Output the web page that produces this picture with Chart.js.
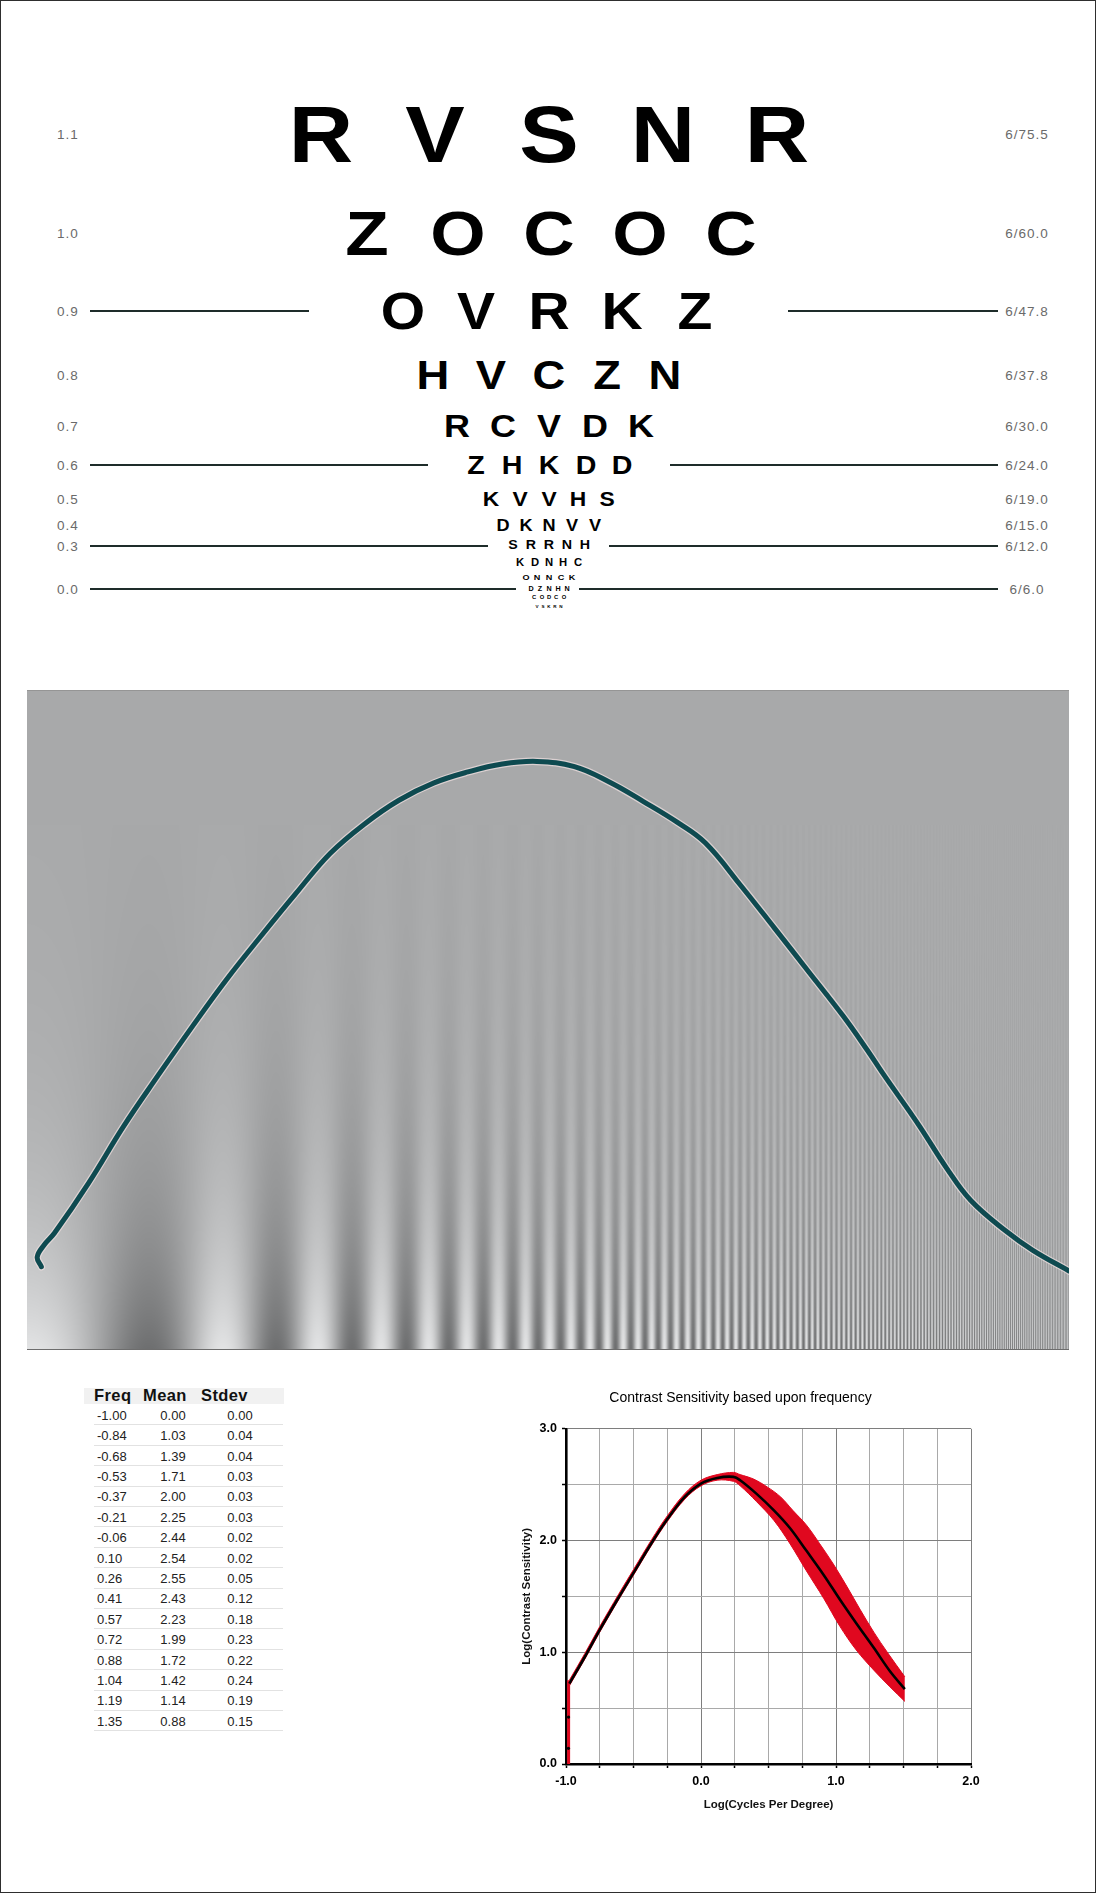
<!DOCTYPE html>
<html>
<head>
<meta charset="utf-8">
<script src="https://cdn.jsdelivr.net/npm/chart.js@4.4.1/dist/chart.umd.min.js"></script>
<style>
  html, body { margin: 0; padding: 0; background: #fff; }
  body { width: 1100px; height: 1896px; position: relative; overflow: hidden; font-family: "Liberation Sans", Arial, sans-serif; }
  .frame { position: absolute; left: 0; top: 0; width: 1094px; height: 1891px; border: 1.5px solid #2e2e2e; }
  .lbl { position: absolute; font-size: 13.5px; color: #6a6a6a; letter-spacing: 1px; transform: translate(-50%, -50%); white-space: nowrap; }
  .ltr { position: absolute; font-weight: bold; color: #000; text-align: center; width: 200px; transform: scaleX(1.12); }
  .rule { position: absolute; height: 2px; background: #1e2c2a; }
  #gratingWrap { position: absolute; left: 27px; top: 690px; width: 1042px; height: 658px; border-top: 1px solid #959595; border-bottom: 1px solid #6d6d6d; }
  #tableWrap div { position: absolute; white-space: nowrap; }
  .th { font-weight: bold; font-size: 16.5px; letter-spacing: 0.4px; color: #111; }
  .td { font-size: 13px; color: #222; }
  .sep { height: 1px; background: #e2e2e2; }
</style>
</head>
<body>
<div class="frame"></div>
<div id="eyeChart"></div>
<div id="gratingWrap"><canvas id="gratingChart" width="1042" height="658"></canvas></div>
<div id="tableWrap"></div>
<div style="position:absolute;left:510px;top:1380px;width:476px;height:438px;">
  <canvas id="csChart" width="476" height="438"></canvas>
</div>

<script>
// ---- eye chart rows ----
const rowLetters = ["RVSNR", "ZOCOC", "OVRKZ", "HVCZN", "RCVDK", "ZHKDD", "KVVHS", "DKNVV", "SRRNH", "KDNHC", "ONNCK", "DZNHN", "CODCO", "VSKRN"];
const logMarLabels = ["1.1", "1.0", "0.9", "0.8", "0.7", "0.6", "0.5", "0.4", "0.3", "", "", "0.0", "", ""];
const snellenLabels = ["6/75.5", "6/60.0", "6/47.8", "6/37.8", "6/30.0", "6/24.0", "6/19.0", "6/15.0", "6/12.0", "", "", "6/6.0", "", ""];

// ---- grating curve (x: % of panel width, y: % of panel height from bottom) ----
const curveX = [1.38, 0.98, 1.64, 2.64, 5.94, 9.25, 12.55, 15.86, 19.17, 22.48, 25.79, 29.09, 32.40, 35.70, 39.01, 42.32, 45.62, 48.94, 52.54, 55.84, 59.16, 62.46, 65.11, 68.42, 71.72, 75.03, 78.33, 80.65, 82.30, 85.60, 88.25, 90.56, 93.88, 96.53, 100];
const curveY = [12.50, 13.96, 15.80, 17.63, 25.3, 33.8, 41.5, 49.0, 56.2, 62.8, 69.2, 75.3, 79.8, 83.4, 86.0, 87.7, 88.9, 89.3, 88.5, 86.2, 83.2, 80.0, 76.9, 70.6, 64.0, 57.3, 50.6, 45.4, 41.5, 34.0, 27.5, 22.6, 18.0, 15.0, 11.86];

// ---- table ----
const freq  = [-1.00, -0.84, -0.68, -0.53, -0.37, -0.21, -0.06, 0.10, 0.26, 0.41, 0.57, 0.72, 0.88, 1.04, 1.19, 1.35];
const mean  = [0.00, 1.03, 1.39, 1.71, 2.00, 2.25, 2.44, 2.54, 2.55, 2.43, 2.23, 1.99, 1.72, 1.42, 1.14, 0.88];
const stdev = [0.00, 0.04, 0.04, 0.03, 0.03, 0.03, 0.02, 0.02, 0.05, 0.12, 0.18, 0.23, 0.22, 0.24, 0.19, 0.15];

// ---- contrast sensitivity chart ----
const meanX  = [-0.975, -0.86, -0.75, -0.61, -0.50, -0.365, -0.25, -0.12, 0.0, 0.12, 0.24, 0.29, 0.41, 0.54, 0.66, 0.78, 0.91, 1.03, 1.15, 1.28, 1.40, 1.51];
const meanY  = [0.72, 0.96, 1.20, 1.49, 1.71, 1.98, 2.19, 2.39, 2.51, 2.56, 2.57, 2.54, 2.42, 2.27, 2.11, 1.91, 1.69, 1.47, 1.26, 1.04, 0.83, 0.67];
const upperX = [-0.975, -0.86, -0.75, -0.61, -0.50, -0.365, -0.25, -0.12, 0.0, 0.12, 0.24, 0.29, 0.39, 0.49, 0.59, 0.68, 0.78, 0.88, 0.98, 1.08, 1.18, 1.28, 1.38, 1.51];
const upperY = [0.75, 0.99, 1.23, 1.52, 1.74, 2.01, 2.22, 2.42, 2.54, 2.59, 2.61, 2.59, 2.55, 2.48, 2.39, 2.27, 2.14, 1.97, 1.79, 1.59, 1.38, 1.18, 1.00, 0.78];
const lowerX = [-0.975, -0.86, -0.75, -0.61, -0.50, -0.365, -0.25, -0.12, 0.0, 0.12, 0.24, 0.29, 0.41, 0.54, 0.66, 0.78, 0.91, 1.03, 1.15, 1.28, 1.40, 1.51];
const lowerY = [0.70, 0.94, 1.18, 1.47, 1.69, 1.96, 2.17, 2.37, 2.49, 2.54, 2.53, 2.49, 2.35, 2.18, 1.97, 1.73, 1.48, 1.23, 1.02, 0.84, 0.69, 0.56];
const startX = [-0.982, -0.982, -0.981, -0.979];
const startY = [0.0, 0.14, 0.42, 0.75];

const pts = (xs, ys) => xs.map((x, i) => ({ x, y: ys[i] }));

// ---------- eye chart (layout) ----------
const eye = document.getElementById("eyeChart");
const rowCenterY = [134, 232.5, 310.5, 374.5, 425.5, 465, 498.8, 525, 545.5, 563, 577.5, 589, 598, 606.7];
const rowCapH = [57, 45.5, 36.5, 29, 23, 18.3, 14.6, 11.6, 9.1, 7.2, 5.8, 4.6, 3.7, 2.9];
const chartCenterX = 549;
const ruledRows = { 2: [309, 788], 5: [428, 670], 8: [488, 609], 11: [516, 579] };

rowLetters.forEach((letters, r) => {
  const h = rowCapH[r];
  const fs = h / 0.716;
  const capTop = rowCenterY[r] - h / 2;
  [...letters].forEach((ch, i) => {
    const d = document.createElement("div");
    d.className = "ltr";
    d.textContent = ch;
    d.style.fontSize = fs + "px";
    d.style.lineHeight = fs + "px";
    d.style.left = (chartCenterX + (i - 2) * 2 * h - 100) + "px";
    d.style.top = (capTop - 0.1305 * fs) + "px";
    eye.appendChild(d);
  });
  if (logMarLabels[r]) {
    const l = document.createElement("div");
    l.className = "lbl";
    l.textContent = logMarLabels[r];
    l.style.left = "68px";
    l.style.top = rowCenterY[r] + "px";
    eye.appendChild(l);
    const s = document.createElement("div");
    s.className = "lbl";
    s.textContent = snellenLabels[r];
    s.style.left = "1027px";
    s.style.top = rowCenterY[r] + "px";
    eye.appendChild(s);
  }
  if (ruledRows[r]) {
    const [leftEnd, rightStart] = ruledRows[r];
    const a = document.createElement("div");
    a.className = "rule";
    a.style.left = "90px";
    a.style.width = (leftEnd - 90) + "px";
    a.style.top = (rowCenterY[r] - 1) + "px";
    eye.appendChild(a);
    const b = document.createElement("div");
    b.className = "rule";
    b.style.left = rightStart + "px";
    b.style.width = (998 - rightStart) + "px";
    b.style.top = (rowCenterY[r] - 1) + "px";
    eye.appendChild(b);
  }
});

// ---------- table ----------
const tw = document.getElementById("tableWrap");
function put(cls, text, css) {
  const d = document.createElement("div");
  d.className = cls;
  if (text !== null) d.textContent = text;
  Object.assign(d.style, css);
  tw.appendChild(d);
  return d;
}
put("", null, { left: "84px", top: "1388px", width: "200px", height: "16px", background: "#f1f1f1" });
put("th", "Freq", { left: "94px", top: "1386px" });
put("th", "Mean", { left: "143px", top: "1386px" });
put("th", "Stdev", { left: "201px", top: "1386px" });
freq.forEach((f, i) => {
  const cy = 1415.7 + i * 20.4;
  put("td", f.toFixed(2), { left: "97px", top: (cy - 8) + "px" });
  put("td", mean[i].toFixed(2), { left: "143px", width: "60px", textAlign: "center", top: (cy - 8) + "px" });
  put("td", stdev[i].toFixed(2), { left: "210px", width: "60px", textAlign: "center", top: (cy - 8) + "px" });
  put("sep", null, { left: "94px", width: "189px", top: (cy + 8.6) + "px" });
});

Chart.defaults.font.family = '"Liberation Sans", Arial, sans-serif';
Chart.defaults.animation = false;

// ---------- grating panel ----------
// sine-wave sweep texture drawn behind the curve
const gratingPlugin = {
  id: "grating",
  beforeDatasetsDraw(chart) {
    const { ctx, chartArea: a } = chart;
    const w = Math.round(a.right - a.left), h = Math.round(a.bottom - a.top);
    const off = document.createElement("canvas");
    off.width = w; off.height = h;
    const octx = off.getContext("2d");
    const img = octx.createImageData(w, h);
    const k = 0.0052, p0 = 340, c = 2 * Math.PI / (p0 * k);
    const col = new Float32Array(w);
    for (let x = 0; x < w; x++) {
      let s = 0;
      for (let j = 0; j < 8; j++) s += Math.cos(c * (Math.exp(k * (x + (j + 0.5) / 8)) - 1));
      col[x] = s / 8;
    }
    for (let y = 0; y < h; y++) {
      let amp = 58 * Math.exp(-(h - 1 - y) / 135);
      if (amp < 1.2) amp = 0;
      for (let x = 0; x < w; x++) {
        const v = Math.round(168 + amp * col[x]);
        const i = (y * w + x) * 4;
        img.data[i] = v; img.data[i + 1] = v + 1; img.data[i + 2] = v + 2; img.data[i + 3] = 255;
      }
    }
    octx.putImageData(img, 0, 0);
    ctx.drawImage(off, a.left, a.top, w, h);
  }
};

new Chart(document.getElementById("gratingChart"), {
  type: "line",
  data: {
    datasets: [
      { data: pts(curveX, curveY), borderColor: "#0e4a50", borderWidth: 5, pointRadius: 0, tension: 0.4, borderCapStyle: "round", borderJoinStyle: "round" },
      { data: pts(curveX, curveY), borderColor: "rgba(236,222,222,0.75)", borderWidth: 7.5, pointRadius: 0, tension: 0.4, borderCapStyle: "round" }
    ]
  },
  options: {
    responsive: false,
    layout: { padding: 0 },
    plugins: { legend: { display: false }, tooltip: { enabled: false } },
    scales: {
      x: { type: "linear", display: false, min: 0, max: 100 },
      y: { type: "linear", display: false, min: 0, max: 100 }
    }
  },
  plugins: [gratingPlugin]
});

// ---------- contrast sensitivity chart ----------
const red = "#e0081f";
new Chart(document.getElementById("csChart"), {
  type: "line",
  data: {
    datasets: [
      { label: "Mean", data: pts(meanX, meanY), borderColor: "#000", borderWidth: 2.6, pointRadius: 0, tension: 0.35, fill: false },
      { label: "start", data: pts(startX, startY), borderColor: red, borderWidth: 3, tension: 0, fill: false,
        pointRadius: [0, 1.6, 1.6, 0], pointBackgroundColor: "#000", pointBorderWidth: 0 },
      { label: "Upper", data: pts(upperX, upperY), borderColor: red, backgroundColor: red, borderWidth: 1, pointRadius: 0, tension: 0.35, fill: "+1" },
      { label: "Lower", data: pts(lowerX, lowerY), borderColor: red, borderWidth: 1, pointRadius: 0, tension: 0.35, fill: false }
    ]
  },
  options: {
    responsive: false,
    layout: { padding: { left: 0, right: 15, top: 0, bottom: 0 } },
    plugins: {
      legend: { display: false },
      tooltip: { enabled: false },
      title: { display: true, text: "Contrast Sensitivity based upon frequency", color: "#000",
               font: { size: 14, weight: "normal" }, padding: { top: 10, bottom: 22 } }
    },
    scales: {
      x: {
        type: "linear", min: -1, max: 2,
        afterFit: s => { s.height = 54; },
        ticks: { stepSize: 0.25, autoSkip: false, maxRotation: 0, color: "#000", padding: 6,
                 font: { size: 12.5, weight: "bold" },
                 callback: v => Number.isInteger(v) ? v.toFixed(1) : "" },
        grid: { color: c => (c.tick && Number.isInteger(c.tick.value)) ? "#7e7e7e" : "#a9a9a9",
                lineWidth: 1, tickLength: 4, tickColor: "#000", tickWidth: 1.5 },
        border: { color: "#000", width: 2.6 },
        title: { display: true, text: "Log(Cycles Per Degree)", color: "#111",
                 font: { size: 11.5, weight: "bold" }, padding: { top: 0, bottom: 6 } }
      },
      y: {
        type: "linear", min: 0, max: 3,
        afterFit: s => { s.width = 56; },
        ticks: { stepSize: 0.5, color: "#000", padding: 5, font: { size: 12.5, weight: "bold" },
                 callback: v => Number.isInteger(v) ? v.toFixed(1) : "" },
        grid: { color: c => (c.tick && Number.isInteger(c.tick.value)) ? "#7e7e7e" : "#a9a9a9",
                lineWidth: 1, tickLength: 4, tickColor: "#000", tickWidth: 1.5 },
        border: { color: "#000", width: 2.6 },
        title: { display: true, text: "Log(Contrast Sensitivity)", color: "#111",
                 font: { size: 11.5, weight: "bold" }, padding: { top: 10, bottom: 0 } }
      }
    }
  }
});
</script>
</body>
</html>
